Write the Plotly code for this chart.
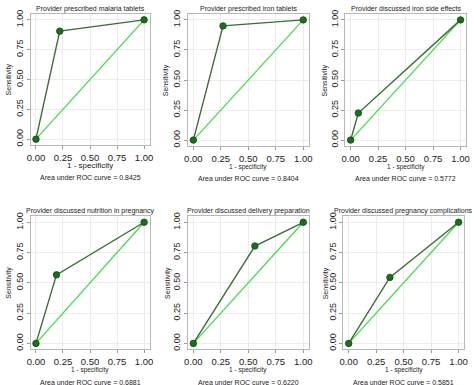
import plotly.graph_objects as go

W, H = 474, 385

titles = ["Provider prescribed malaria tablets", "Provider prescribed iron tablets",
          "Provider discussed iron side effects", "Provider discussed nutrition in pregnancy",
          "Provider discussed delivery preparation", "Provider discussed pregnancy complications"]
fpr_point = [0.22, 0.27, 0.07, 0.19, 0.56, 0.375]
sens_point = [0.905, 0.95, 0.225, 0.566, 0.804, 0.545]
auc = ["0.8425", "0.8404", "0.5772", "0.6881", "0.6220", "0.5851"]
tick_vals = [0, 0.25, 0.5, 0.75, 1.0]
tick_text = ["0.00", "0.25", "0.50", "0.75", "1.00"]

FONT = "Liberation Sans, Arial, sans-serif"

# pixel frames: (left, right, top, bottom)
frames = [(27, 148, 10, 143), (187, 310, 10, 144), (347, 470, 10, 144),
          (27, 148, 215, 350), (187, 310, 215, 350), (345, 468, 215, 350)]
sens_x = [5, 165, 327, 5, 167, 327]
xt_size = [8, 6.5, 6.5, 6.5, 6.5, 6.5]

def px(x):
    return x / W

def py(y):
    return 1 - y / H

fig = go.Figure()
annotations = []
layout = {}
for i in range(6):
    n = "" if i == 0 else str(i + 1)
    l, r, t, b = frames[i]
    xs = [0, fpr_point[i], 1]
    ys = [0, sens_point[i], 1]
    fig.add_trace(go.Scatter(x=[0, 1], y=[0, 1], mode="lines+markers",
                             line=dict(color="#4cd64c", width=1.3),
                             marker=dict(size=6, color="#2f9a2f"),
                             xaxis="x" + n, yaxis="y" + n, showlegend=False))
    fig.add_trace(go.Scatter(x=xs, y=ys, mode="lines+markers",
                             line=dict(color="#3b6e35", width=1.4),
                             marker=dict(size=6.5, color="#1f6b1f",
                                         line=dict(color="#144d14", width=0.8)),
                             xaxis="x" + n, yaxis="y" + n, showlegend=False))
    common = dict(range=[-0.05, 1.05], tickvals=tick_vals, ticktext=tick_text,
                  showgrid=True, gridcolor="#ececec", gridwidth=1, zeroline=False,
                  showline=True, linecolor="#b8b8b8", linewidth=1, mirror=True,
                  ticks="outside", ticklen=3, tickcolor="#999999")
    layout["xaxis" + n] = dict(domain=[px(l), px(r)], anchor="y" + n,
                               tickfont=dict(family=FONT, size=9.5, color="#222"), **common)
    layout["yaxis" + n] = dict(domain=[py(b), py(t)], anchor="x" + n, tickangle=-90,
                               tickfont=dict(family=FONT, size=9, color="#222"), **common)
    cx = (l + r) / 2
    annotations.append(dict(text=titles[i], x=px(cx), y=py(t - 5), xref="paper", yref="paper",
                            showarrow=False, font=dict(family=FONT, size=7, color="#222"),
                            xanchor="center", yanchor="middle"))
    annotations.append(dict(text="1 - specificity", x=px(cx), y=py(b + 21), xref="paper", yref="paper",
                            showarrow=False, font=dict(family=FONT, size=xt_size[i], color="#222"),
                            xanchor="center", yanchor="middle"))
    annotations.append(dict(text="Area under ROC curve = " + auc[i], x=px(cx), y=py(b + 33),
                            xref="paper", yref="paper", showarrow=False,
                            font=dict(family=FONT, size=7, color="#222"),
                            xanchor="center", yanchor="middle"))
    annotations.append(dict(text="Sensitivity", x=px(sens_x[i]), y=py((t + b) / 2), xref="paper",
                            yref="paper", showarrow=False, textangle=-90,
                            font=dict(family=FONT, size=7, color="#222"),
                            xanchor="center", yanchor="middle"))

fig.update_layout(width=W, height=H, margin=dict(l=0, r=0, t=0, b=0),
                  paper_bgcolor="white", plot_bgcolor="white",
                  annotations=annotations, **layout)
fig.write_html("out.html", config={"displayModeBar": False},
               post_script="document.body.style.margin='0';document.body.style.overflow='hidden';")
